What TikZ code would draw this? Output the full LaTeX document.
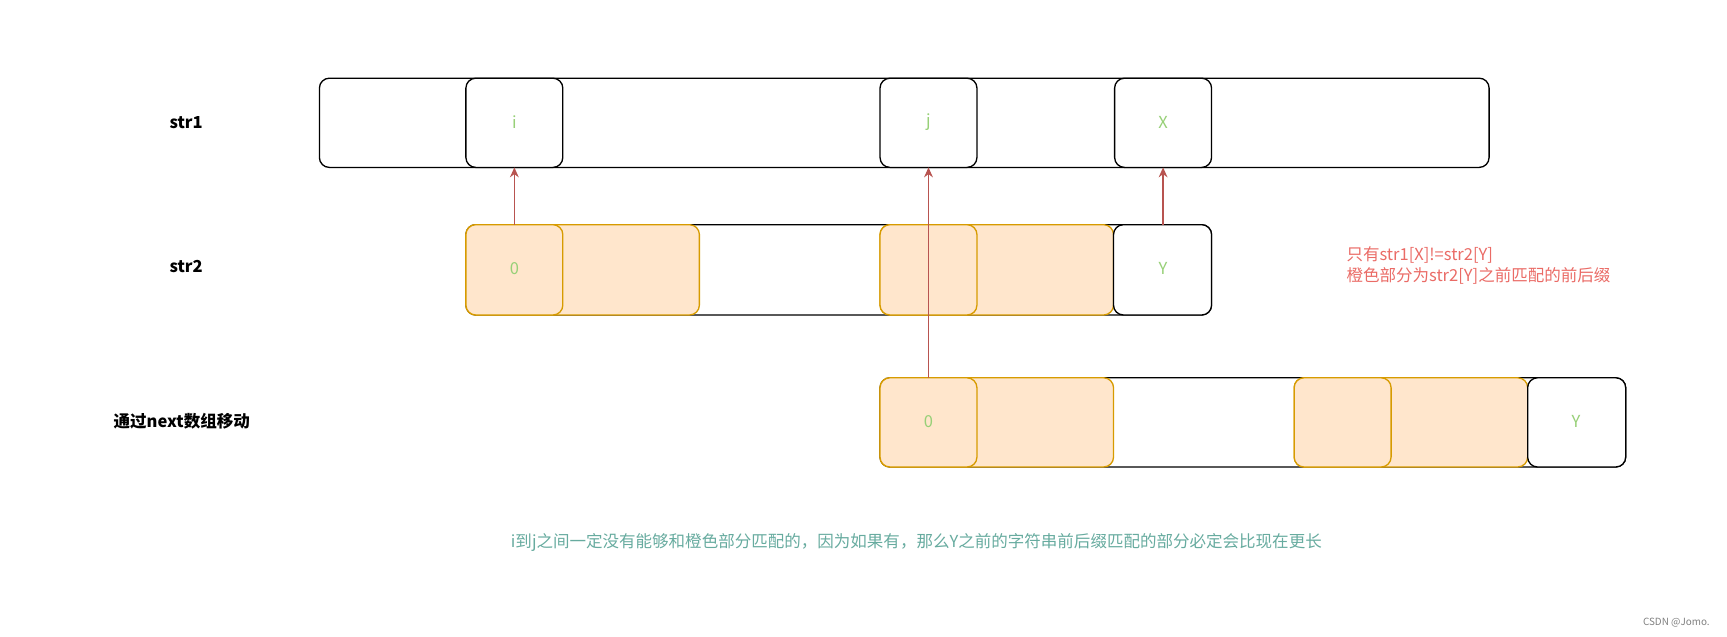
\documentclass[tikz,border=0pt]{standalone}
\usepackage{fontspec}
\usetikzlibrary{arrows.meta}
\setmainfont{Noto Sans CJK SC}
\begin{document}
\begin{tikzpicture}[x=1pt,y=-1pt,
 box/.style={draw=black,line width=1.2pt,rounded corners=9pt,fill=white},
 obox/.style={draw={rgb,255:red,215;green,155;blue,0},line width=1.2pt,rounded corners=9pt,fill={rgb,255:red,255;green,230;blue,204}},
 ctext/.style={text={rgb,255:red,151;green,208;blue,119},font=\fontsize{15}{18}\selectfont},
 lab/.style={font=\bfseries\fontsize{15}{18}\selectfont},
 arr/.style={draw={rgb,255:red,184;green,84;blue,80},line width=1.2pt,-{Stealth[length=9pt,width=8pt]}}]
\useasboundingbox (0,0) rectangle (1568,578);
% row 1
\draw[box] (290,71) rectangle (1352,152);
\draw[box] (423,71) rectangle (511,152); \node[ctext] (ci) at (467,111) {i};
\draw[box] (799,71) rectangle (887,152); \node[ctext] (cj) at (843,111) {j};
\draw[box] (1012,71) rectangle (1100,152); \node[ctext] (cx) at (1056,111) {X};
% row 2
\draw[box] (423,204) rectangle (1100,286);
\draw[obox] (423,204) rectangle (635,286);
\draw[obox] (423,204) rectangle (511,286); \node[ctext] (c0a) at (467,244) {0};
\draw[obox] (799,204) rectangle (1011,286);
\draw[obox] (799,204) rectangle (887,286);
\draw[box] (1011,204) rectangle (1100,286); \node[ctext] (cya) at (1056,244) {Y};
% row 3
\draw[box] (799,343) rectangle (1476,424);
\draw[obox] (799,343) rectangle (1011,424);
\draw[obox] (799,343) rectangle (887,424); \node[ctext] (c0b) at (843,383) {0};
\draw[obox] (1175,343) rectangle (1387,424);
\draw[obox] (1175,343) rectangle (1263,424);
\draw[box] (1387,343) rectangle (1476,424); \node[ctext] (cyb) at (1431,383) {Y};
% arrows
\coordinate (a1s) at (467,204); \coordinate (a1e) at (467,152);
\coordinate (a2s) at (843,343); \coordinate (a2e) at (843,152);
\coordinate (a3s) at (1056,204); \coordinate (a3e) at (1056,152);
\draw[arr] (a1s) -- (a1e);
\draw[arr] (a2s) -- (a2e);
\draw[arr] (a3s) -- (a3e);
% labels
\node[lab] (l1) at (169,111) {str1};
\node[lab] (l2) at (169,242) {str2};
\node[lab] (l3) at (165,382) {通过next数组移动};
\node[anchor=west,align=left,text={rgb,255:red,234;green,107;blue,102},font=\fontsize{15}{19}\selectfont] (note) at (1219,241) {只有str1[X]!=str2[Y]\\橙色部分为str2[Y]之前匹配的前后缀};
\node[text={rgb,255:red,103;green,171;blue,159},font=\fontsize{15}{18}\selectfont] (bottom) at (832,493) {i到j之间一定没有能够和橙色部分匹配的，因为如果有，那么Y之前的字符串前后缀匹配的部分必定会比现在更长};
\node[text=gray,font=\fontsize{9}{11}\selectfont] (wm) at (1522,565) {CSDN @Jomo.};
\end{tikzpicture}
\end{document}
